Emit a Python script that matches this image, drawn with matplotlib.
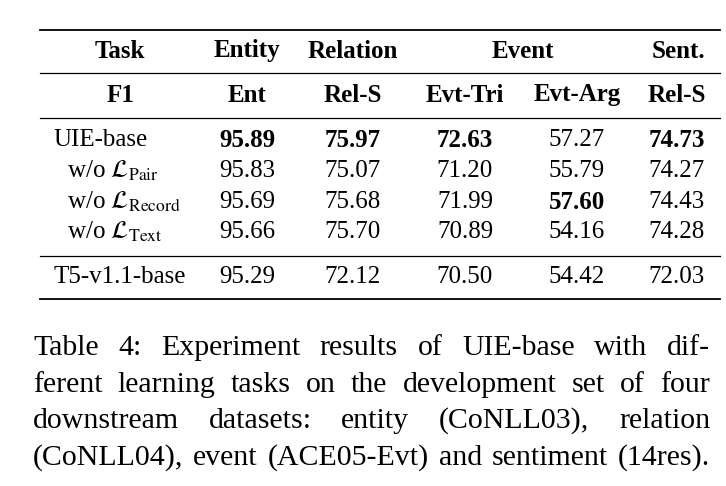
import matplotlib
matplotlib.use("Agg")
import matplotlib.pyplot as plt
from matplotlib.lines import Line2D

plt.rcParams['font.family'] = ['Liberation Serif', 'DejaVu Serif']
plt.rcParams['mathtext.fontset'] = 'stix'

header1 = ["Task", "Entity", "Relation", "Event", "Sent."]
header2 = ["F1", "Ent", "Rel-S", "Evt-Tri", "Evt-Arg", "Rel-S"]
row_names = ["UIE-base", r"w/o $\mathcal{L}_{\rm Pair}$", r"w/o $\mathcal{L}_{\rm Record}$",
             r"w/o $\mathcal{L}_{\rm Text}$", "T5-v1.1-base"]
values = [
    ["95.89", "75.97", "72.63", "57.27", "74.73"],
    ["95.83", "75.07", "71.20", "55.79", "74.27"],
    ["95.69", "75.68", "71.99", "57.60", "74.43"],
    ["95.66", "75.70", "70.89", "54.16", "74.28"],
    ["95.29", "72.12", "70.50", "54.42", "72.03"],
]
bold = [
    [True, True, True, False, True],
    [False] * 5,
    [False, False, False, True, False],
    [False] * 5,
    [False] * 5,
]
caption_lines = [
    "Table 4:  Experiment results of UIE-base with dif-",
    "ferent learning tasks on the development set of four",
    "downstream datasets:  entity (CoNLL03), relation",
    "(CoNLL04), event (ACE05-Evt) and sentiment (14res).",
]

W, H = 726, 486
fig = plt.figure(figsize=(W / 100, H / 100), dpi=100)
ax = fig.add_axes([0, 0, 1, 1])
ax.set_xlim(0, W)
ax.set_ylim(H, 0)
ax.axis('off')

fs = 18
for y, lw in [(30, 1.3), (73, 0.9), (118, 0.9), (256, 0.9), (299, 1.3)]:
    ax.add_line(Line2D([40, 720], [y, y], color='black', lw=lw))

h1x = [120, 247, 353, 523, 678]
for t, x in zip(header1, h1x):
    ax.text(x, 51, t, ha='center', va='center', fontsize=fs, fontweight='bold')
h2x = [120, 247, 353, 465, 577, 677]
for t, x in zip(header2, h2x):
    ax.text(x, 95, t, ha='center', va='center', fontsize=fs, fontweight='bold')

row_y = [140, 171, 202, 232, 277]
name_x = [53, 67, 67, 67, 53]
for i, (n, y) in enumerate(zip(row_names, row_y)):
    ax.text(name_x[i], y, n, ha='left', va='center', fontsize=fs)
    for j, v in enumerate(values[i]):
        ax.text(h2x[j + 1], y, v, ha='center', va='center', fontsize=fs,
                fontweight='bold' if bold[i][j] else 'normal')

cfs = 21.5
fig.canvas.draw()
r = fig.canvas.get_renderer()
left, right = 33, 710
cap_y = [348, 385, 421, 458]
for line, y in zip(caption_lines, cap_y):
    words = line.split()
    widths = []
    for w in words:
        t = ax.text(0, 0, w, fontsize=cfs)
        widths.append(t.get_window_extent(renderer=r).width)
        t.remove()
    gap = (right - left - sum(widths)) / (len(words) - 1)
    x = left
    for w, wd in zip(words, widths):
        ax.text(x, y, w, ha='left', va='center', fontsize=cfs)
        x += wd + gap

fig.savefig("out.png", dpi=100)
